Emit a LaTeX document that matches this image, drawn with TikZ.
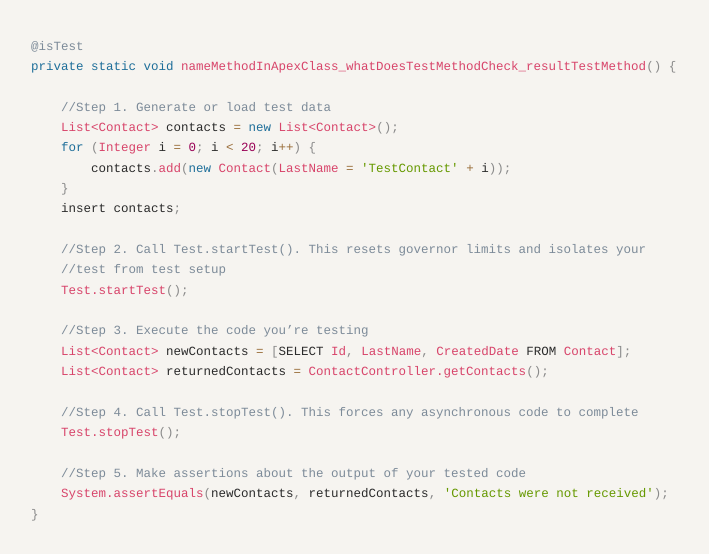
\documentclass[tikz,border=0pt]{standalone}
\usepackage{fontspec}
\newfontfamily\code{Liberation Mono}
\frenchspacing
\definecolor{bgc}{HTML}{F6F4F0}
\definecolor{cmc}{HTML}{7D8B99}
\definecolor{kwc}{HTML}{1F6F9A}
\definecolor{tyc}{HTML}{D8456B}
\definecolor{nuc}{HTML}{990055}
\definecolor{stc}{HTML}{669900}
\definecolor{puc}{HTML}{8A8A8A}
\definecolor{txc}{HTML}{2B2B2B}
\definecolor{opc}{HTML}{9A6E3A}
\newcommand\kw[1]{\textcolor{kwc}{#1}}
\newcommand\ty[1]{\textcolor{tyc}{#1}}
\newcommand\cm[1]{\textcolor{cmc}{#1}}
\newcommand\nmb[1]{\textcolor{nuc}{#1}}
\newcommand\stt[1]{\textcolor{stc}{#1}}
\newcommand\pu[1]{\textcolor{puc}{#1}}
\newcommand\op[1]{\textcolor{opc}{#1}}
\newcommand\q{\char39}
\begin{document}
\begin{tikzpicture}[x=1pt,y=-1pt,
  ln/.style={anchor=base west,inner sep=0pt,font=\code\fontsize{12.5}{14}\selectfont\frenchspacing,text=txc}]
\useasboundingbox (0,0) rectangle (709,554);
\fill[bgc] (0,0) rectangle (709,554);
\def\L#1{50+20.35*#1}
\node[ln] (l0) at (31,{\L0}) {\cm{@isTest}};
\node[ln] (l1) at (31,{\L1}) {\kw{private static void} \ty{nameMethodInApexClass\_whatDoesTestMethodCheck\_resultTestMethod}\pu{() \{}};
\node[ln] (l3) at (61,{\L3}) {\cm{//Step 1. Generate or load test data}};
\node[ln] (l4) at (61,{\L4}) {\ty{List<Contact>} contacts \op{=} \kw{new} \ty{List<Contact>}\pu{();}};
\node[ln] (l5) at (61,{\L5}) {\kw{for} \pu{(}\ty{Integer} i \op{=} \nmb{0}\pu{;} i \op{<} \nmb{20}\pu{;} i\op{++}\pu{) \{}};
\node[ln] (l6) at (91,{\L6}) {contacts\pu{.}\ty{add}\pu{(}\kw{new} \ty{Contact}\pu{(}\ty{LastName} \op{=} \stt{\q TestContact\q} \op{+} i\pu{));}};
\node[ln] (l7) at (61,{\L7}) {\pu{\}}};
\node[ln] (l8) at (61,{\L8}) {insert contacts\pu{;}};
\node[ln] (l10) at (61,{\L{10}}) {\cm{//Step 2. Call Test.startTest(). This resets governor limits and isolates your}};
\node[ln] (l11) at (61,{\L{11}}) {\cm{//test from test setup}};
\node[ln] (l12) at (61,{\L{12}}) {\ty{Test.startTest}\pu{();}};
\node[ln] (l14) at (61,{\L{14}}) {\cm{//Step 3. Execute the code you’re testing}};
\node[ln] (l15) at (61,{\L{15}}) {\ty{List<Contact>} newContacts \op{=} \pu{[}SELECT \ty{Id}\pu{,} \ty{LastName}\pu{,} \ty{CreatedDate} FROM \ty{Contact}\pu{];}};
\node[ln] (l16) at (61,{\L{16}}) {\ty{List<Contact>} returnedContacts \op{=} \ty{ContactController.getContacts}\pu{();}};
\node[ln] (l18) at (61,{\L{18}}) {\cm{//Step 4. Call Test.stopTest(). This forces any asynchronous code to complete}};
\node[ln] (l19) at (61,{\L{19}}) {\ty{Test.stopTest}\pu{();}};
\node[ln] (l21) at (61,{\L{21}}) {\cm{//Step 5. Make assertions about the output of your tested code}};
\node[ln] (l22) at (61,{\L{22}}) {\ty{System.assertEquals}\pu{(}newContacts\pu{,} returnedContacts\pu{,} \stt{\q Contacts were not received\q}\pu{);}};
\node[ln] (l23) at (31,{\L{23}}) {\pu{\}}};
\end{tikzpicture}
\end{document}
